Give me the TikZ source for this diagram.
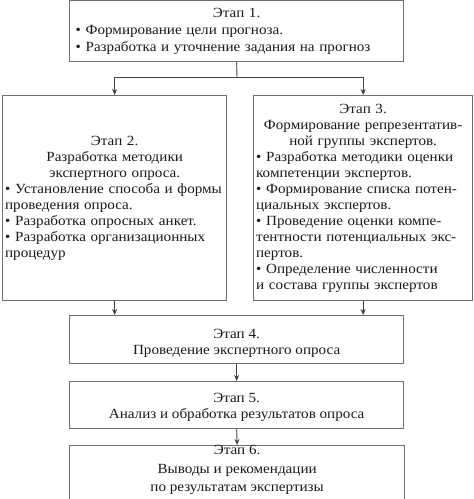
\documentclass[tikz,border=0pt]{standalone}
\usepackage{fontspec}
\setmainfont{Liberation Serif}[FakeStretch=1.08]
\usetikzlibrary{arrows.meta}
\definecolor{boxline}{HTML}{707070}
\definecolor{arrline}{HTML}{404040}
\definecolor{txt}{HTML}{1A1A1A}
\begin{document}
\begin{tikzpicture}[x=1pt,y=-1pt,
  box/.style={draw=boxline, line width=1.3pt, fill=white, inner sep=0pt,
    anchor=north west, font=\fontsize{14}{16}\selectfont, text=txt},
  link/.style={draw=arrline, line width=0.9pt},
  arr/.style={link, -{Stealth[length=6pt,width=5pt]}}]
\useasboundingbox (0,0) rectangle (474,499);
\clip (0,0) rectangle (474,499);
\fill[white] (0,0) rectangle (474,499);

\node[box, font=\fontsize{14}{17}\selectfont, minimum width=334pt, minimum height=61pt, text width=322pt, align=left] (b1) at (69,0)
  {\centering Этап 1.\par\raggedright
   • Формирование цели прогноза.\\
   • Разработка и уточнение задания на прогноз};

\node[box, minimum width=224pt, minimum height=205pt, text width=219pt] (b2) at (2,95)
  {\centering Этап 2.\\ Разработка методики\\ экспертного опроса.\par\raggedright
   \makebox[\linewidth][s]{• Установление способа и формы}\\
   проведения опроса.\\
   • Разработка опросных анкет.\\
   • Разработка организационных\\
   процедур};

\node[box, minimum width=219pt, minimum height=205pt, text width=214pt] (b3) at (253,95)
  {\centering Этап 3.\\ Формирование репрезентатив-\\ ной группы экспертов.\par\raggedright
   \makebox[\linewidth][s]{• Разработка методики оценки}\\
   компетенции экспертов.\\
   \makebox[\linewidth][s]{• Формирование списка потен-}\\
   циальных экспертов.\\
   \makebox[\linewidth][s]{• Проведение оценки компе-}\\
   \makebox[\linewidth][s]{тентности потенциальных экс-}\\
   пертов.\\
   \makebox[\linewidth][s]{• Определение численности}\\
   и состава группы экспертов};

\node[box, minimum width=334pt, minimum height=48pt, align=center] (b4) at (69,315)
  {\rule{0pt}{17pt}Этап 4.\\ Проведение экспертного опроса};

\node[box, minimum width=334pt, minimum height=47pt, align=center] (b5) at (69,381)
  {\rule{0pt}{13.5pt}Этап 5.\\ Анализ и обработка результатов опроса};

\node[box, font=\fontsize{14}{18.5}\selectfont, minimum width=335pt, minimum height=55pt, align=center] (b6) at (69,445)
  {Этап 6.\\ Выводы и рекомендации\\ по результатам экспертизы\rule[-9.5pt]{0pt}{1pt}};

\coordinate (j) at (237,77);
\draw[link] (b1.south) -- (j);
\draw[arr] (j) -| (b2.north);
\draw[arr] (j) -| (b3.north);
\draw[arr] (b2.south) -- (b2.south |- b4.north);
\draw[arr] (b3.south) -- (b3.south |- b4.north);
\draw[arr] (b4.south) -- (b5.north);
\draw[arr] (b5.south) -- (b6.north);
\end{tikzpicture}
\end{document}
